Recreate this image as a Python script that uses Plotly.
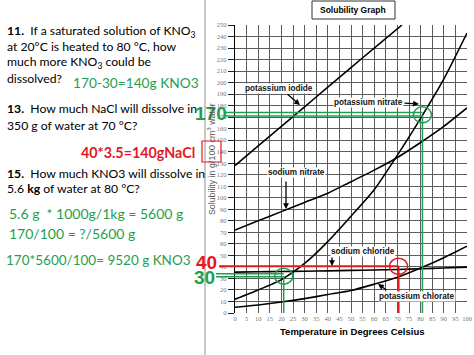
import plotly.graph_objects as go

# ---------------- data ----------------
temps = [0, 10, 20, 30, 40, 50, 60, 70, 80, 90, 100]
ki_temps = [0, 10, 20, 30, 40, 50, 60, 72]
ki_vals = [128, 145, 162, 179, 196, 213, 230, 250]
kno3_vals = [12, 20, 29, 43, 62, 84, 107, 137, 169, 203, 243]
nano3_vals = [72, 80, 88, 96, 104, 114, 124, 135, 148, 162, 178]
nacl_vals = [35.5, 35.8, 36, 36.3, 36.6, 37, 37.3, 37.8, 38.4, 39, 39.8]
kclo3_vals = [5, 7, 9.5, 12.5, 16, 19.5, 25, 31, 39, 48, 58]

x_ticks = list(range(0, 101, 5))
y_ticks = list(range(0, 251, 10))

# reading marks: (temperature, solubility)
kno3_hot = (80.8, 172)
kno3_hot_lines = [171, 174]
nacl_read = (70.5, 40.5)
kno3_cold = (21, 32)
kno3_cold_lines = [31.5, 34]

GREEN = "#1f9e4f"
RED = "#e3191f"
X_RANGE = [0, 100]
Y_RANGE = [0, 250]

# pixel helpers (plot area: x 235..467, y 25..313)
PL, PR, PT, PB = 235, 467, 25, 313
def px(p):
    return (p - PL) / (PR - PL)
def py(p):
    return (PB - p) / (PB - PT)
def dx(t):
    return (t - X_RANGE[0]) / (X_RANGE[1] - X_RANGE[0])

fig = go.Figure()
line_style = dict(color="black", width=1.6, shape="spline", smoothing=0.6)
fig.add_trace(go.Scatter(x=ki_temps, y=ki_vals, mode="lines", line=line_style, name="potassium iodide"))
fig.add_trace(go.Scatter(x=temps, y=kno3_vals, mode="lines", line=line_style, name="potassium nitrate"))
fig.add_trace(go.Scatter(x=temps, y=nano3_vals, mode="lines", line=line_style, name="sodium nitrate"))
fig.add_trace(go.Scatter(x=temps, y=nacl_vals, mode="lines", line=line_style, name="sodium chloride"))
fig.add_trace(go.Scatter(x=temps, y=kclo3_vals, mode="lines", line=line_style, name="potassium chlorate"))

shapes = []
# separator line
shapes.append(dict(type="line", xref="paper", yref="paper", x0=px(205), x1=px(205), y0=py(0), y1=py(355),
                   line=dict(color="#c8c8c8", width=2)))
# title box
shapes.append(dict(type="rect", xref="paper", yref="paper", x0=px(312), x1=px(395), y0=py(1), y1=py(19),
                   line=dict(color="#333", width=1), fillcolor="white"))
# red box around "100"
shapes.append(dict(type="rect", xref="paper", yref="paper", x0=px(202), x1=px(221), y0=py(141), y1=py(162),
                   line=dict(color=RED, width=1.2)))

# KNO3 at 80
for s in kno3_hot_lines:
    shapes.append(dict(type="line", xref="paper", yref="y", x0=px(226), x1=dx(kno3_hot[0]), y0=s, y1=s,
                       line=dict(color=GREEN, width=1.5)))
shapes.append(dict(type="line", xref="x", yref="y", x0=kno3_hot[0], x1=kno3_hot[0], y0=-2, y1=kno3_hot[1],
                   line=dict(color=GREEN, width=1.5)))
# NaCl at 70
shapes.append(dict(type="line", xref="paper", yref="y", x0=px(219), x1=dx(nacl_read[0]), y0=nacl_read[1], y1=nacl_read[1],
                   line=dict(color=RED, width=2)))
shapes.append(dict(type="line", xref="x", yref="y", x0=nacl_read[0], x1=nacl_read[0], y0=-2, y1=nacl_read[1],
                   line=dict(color=RED, width=2)))
# KNO3 at 20
for s in kno3_cold_lines:
    shapes.append(dict(type="line", xref="paper", yref="y", x0=px(216), x1=dx(kno3_cold[0]), y0=s, y1=s,
                       line=dict(color=GREEN, width=1.5)))
shapes.append(dict(type="line", xref="x", yref="y", x0=kno3_cold[0], x1=kno3_cold[0], y0=-2, y1=kno3_cold[1],
                   line=dict(color=GREEN, width=1.5)))
# circles
for (t, s), col in [(kno3_hot, GREEN), (nacl_read, RED), (kno3_cold, GREEN)]:
    shapes.append(dict(type="circle", xref="x", yref="y", xsizemode="pixel", ysizemode="pixel",
                       xanchor=t, yanchor=s, x0=-9, x1=9, y0=-8, y1=8,
                       line=dict(color=col, width=1.5)))

ann = []
def text(x, y, t, size=12.2, color="black", bold=False, xanchor="left", font="Lato", **kw):
    if bold:
        t = "<b>" + t + "</b>"
    ann.append(dict(xref="paper", yref="paper", x=px(x), y=py(y), text=t, showarrow=False,
                    xanchor=xanchor, yanchor="middle", font=dict(family=font, size=size, color=color), **kw))

# left slide text
text(5, 31, "<b>11.</b>  If a saturated solution of KNO<sub>3</sub>")
text(5, 47, "at 20°C is heated to 80 °C, how")
text(5, 62, "much more KNO<sub>3</sub> could be")
text(5, 78, "dissolved?")
text(71, 83, "170-30=140g KNO3", size=13.7, color=GREEN)
text(5, 109, "<b>13.</b>  How much NaCl will dissolve in")
text(5, 125, "350 g of water at 70 °C?")
text(79, 152, "40*3.5=140gNaCl", size=14.3, color=RED, bold=True)
text(5, 173, "<b>15.</b>  How much KNO3 will dissolve in")
text(5, 188, "5.6 <b>kg</b> of water at 80 °C?")
text(7, 213, "5.6 g  * 1000g/1kg = 5600 g", size=14, color=GREEN)
text(7, 233, "170/100 = ?/5600 g", size=14, color=GREEN)
text(4, 260, "170*5600/100= 9520 g KNO3", size=13.5, color=GREEN)

# big numbers
text(211, 113, "170", size=19, color=GREEN, bold=True, xanchor="center", font="Liberation Sans")
text(206, 262, "40", size=19, color=RED, bold=True, xanchor="center", font="Liberation Sans")
text(204, 277, "30", size=19, color=GREEN, bold=True, xanchor="center", font="Liberation Sans")

# chart title and axis titles
text(353, 10, "Solubility Graph", size=8.5, bold=True, xanchor="center", font="Liberation Sans")
text(352, 331, "Temperature in Degrees Celsius", size=9.5, bold=True, xanchor="center", font="Liberation Sans")
ann.append(dict(xref="paper", yref="paper", x=px(211), y=py(159),
                text="Solubility in g/<span style='font-size:9.5px'>100</span> cm<sup>3</sup> water",
                showarrow=False, textangle=-90, xanchor="center", yanchor="middle",
                font=dict(family="Liberation Sans", size=8.8, color="#555")))

# curve labels
def label(x, y, t):
    ann.append(dict(xref="paper", yref="paper", x=px(x), y=py(y), text="<b>" + t + "</b>", showarrow=False,
                    xanchor="left", yanchor="middle", bgcolor="white", borderpad=0,
                    font=dict(family="Liberation Sans", size=8.2, color="#111")))
label(244, 88, "potassium iodide")
label(333, 102, "potassium nitrate")
label(267, 172, "sodium nitrate")
label(330, 251, "sodium chloride")
label(378, 296, "potassium chlorate")

def arrow(hx, hy, tx, ty):
    ann.append(dict(xref="paper", yref="paper", x=px(hx), y=py(hy), ax=tx - hx, ay=ty - hy,
                    axref="pixel", ayref="pixel", text="", showarrow=True, arrowhead=2,
                    arrowsize=0.9, arrowwidth=1.3, arrowcolor="black"))
arrow(300, 105, 286, 93)
arrow(419, 104, 403, 103)
arrow(286, 209, 286, 180)
arrow(332, 266, 332, 256)
arrow(378, 284, 388, 291)

fig.update_layout(
    width=474, height=355,
    margin=dict(l=PL, r=474 - PR, t=PT, b=355 - PB, pad=0),
    paper_bgcolor="white", plot_bgcolor="white",
    showlegend=False,
    shapes=shapes, annotations=ann,
    xaxis=dict(range=X_RANGE, tickvals=x_ticks, showgrid=True, gridcolor="#5c5c5c", gridwidth=1.4,
               zeroline=False, showline=False, ticks="", ticklen=0, automargin=False,
               tickfont=dict(family="Liberation Serif", size=6.5, color="#777")),
    yaxis=dict(range=Y_RANGE, tickvals=y_ticks, showgrid=True, gridcolor="#5c5c5c", gridwidth=1.4,
               zeroline=False, showline=True, linecolor="black", linewidth=1.3, automargin=False,
               ticks="outside", ticklen=6, tickcolor="#222", tickwidth=1,
               tickfont=dict(family="Liberation Serif", size=6.5, color="#777")),
)

fig.write_html("out.html", config={"displayModeBar": False},
               post_script="document.body.style.margin='0';document.body.style.padding='0';")
